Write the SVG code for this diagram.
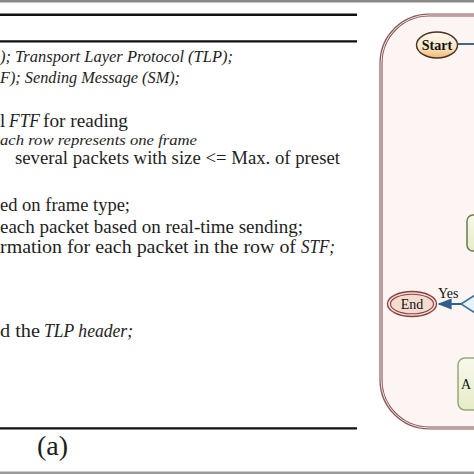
<svg xmlns="http://www.w3.org/2000/svg" width="474" height="474" viewBox="0 0 474 474">
<defs>
<linearGradient id="gStart" x1="0" y1="0" x2="0" y2="1"><stop offset="0" stop-color="#fffaf0"/><stop offset="0.6" stop-color="#fbe6c6"/><stop offset="1" stop-color="#f0b870"/></linearGradient>
<linearGradient id="gBox" x1="0" y1="0" x2="0" y2="1"><stop offset="0" stop-color="#f7f9ec"/><stop offset="1" stop-color="#e6ecc8"/></linearGradient>
<marker id="arr" viewBox="0 0 10 10" refX="9" refY="5" markerWidth="7" markerHeight="7" orient="auto"><path d="M0,1 L10,5 L0,9 Z" fill="#2f5f8f"/></marker>
</defs>
<style>
.t{font-family:"Liberation Serif",serif;fill:#1e1e1e;font-size:19px}
.i{font-family:"Liberation Serif",serif;font-style:italic;fill:#1e1e1e}
.rule{stroke:#111;fill:none}
.node{font-family:"Liberation Serif",serif;fill:#111;font-size:14px}
</style>
<rect width="474" height="474" fill="#ffffff"/>
<rect x="0" y="0" width="474" height="2.5" fill="#8a8a8a"/>
<rect x="0" y="471.5" width="474" height="2.5" fill="#9a9a9a"/>
<g id="algorithm">
<line class="rule" x1="0" y1="14.7" x2="357" y2="14.7" stroke-width="2.6"/>
<line class="rule" x1="0" y1="41.4" x2="357" y2="41.4" stroke-width="2.2"/>
<line class="rule" x1="0" y1="428.3" x2="357" y2="428.3" stroke-width="2.2"/>
<text class="i" x="0" y="62" font-size="17" textLength="233" lengthAdjust="spacingAndGlyphs">); Transport Layer Protocol (TLP);</text>
<text class="i" x="0" y="83" font-size="17" textLength="180" lengthAdjust="spacingAndGlyphs">F); Sending Message (SM);</text>
<text class="t" x="0" y="127">l <tspan class="i" x="9" textLength="31" lengthAdjust="spacingAndGlyphs">FTF</tspan><tspan x="43" textLength="85" lengthAdjust="spacingAndGlyphs">for reading</tspan></text>
<text class="i" x="0" y="145" font-size="14" textLength="197" lengthAdjust="spacingAndGlyphs">ach row represents one frame</text>
<text class="t" x="15" y="164" textLength="325" lengthAdjust="spacingAndGlyphs">several packets with size &lt;= Max. of preset</text>
<text class="t" x="0" y="211" textLength="130" lengthAdjust="spacingAndGlyphs">ed on frame type;</text>
<text class="t" x="0" y="233" textLength="303" lengthAdjust="spacingAndGlyphs">each packet based on real-time sending;</text>
<text class="t" x="0" y="253"><tspan textLength="296" lengthAdjust="spacingAndGlyphs">rmation for each packet in the row of</tspan><tspan class="i" x="301" textLength="34" lengthAdjust="spacingAndGlyphs">STF;</tspan></text>
<text class="t" x="0" y="337"><tspan textLength="40" lengthAdjust="spacingAndGlyphs">d the</tspan><tspan class="i" x="44" textLength="89" lengthAdjust="spacingAndGlyphs">TLP header;</tspan></text>
<text x="37" y="455" font-family="Liberation Serif,serif" font-size="28" fill="#1e1e1e">(a)</text>
</g>
<g id="container">
<rect x="381" y="15" width="160" height="413" rx="48" ry="48" fill="#fcf5f3" stroke="#8a5a5a" stroke-width="3.2"/>
<rect x="381" y="15" width="160" height="413" rx="48" ry="48" fill="none" stroke="#f3e4e2" stroke-width="1"/>
</g>
<g id="process1">
<rect x="467" y="215" width="30" height="36" rx="6" fill="url(#gBox)" stroke="#6e7a4e" stroke-width="1.5"/>
</g>
<g id="process2">
<rect x="458" y="358" width="40" height="52" rx="7" fill="url(#gBox)" stroke="#9aa67a" stroke-width="1.5"/>
<text class="node" x="461" y="389" font-size="15">A</text>
</g>
<g id="decision">
<polygon points="461,304 480,292 499,304 480,316" fill="#e6f2f8" stroke="#3f74a6" stroke-width="1.6"/>
</g>
<g id="connectors">
<line x1="458" y1="44" x2="474" y2="44" stroke="#1f3f5f" stroke-width="1.6"/>
<line x1="461" y1="304" x2="439" y2="304" stroke="#2f5f8f" stroke-width="2" marker-end="url(#arr)"/>
<text class="node" x="438" y="298" font-size="14">Yes</text>
</g>
<g id="start">
<ellipse cx="437" cy="45" rx="20.5" ry="13" fill="url(#gStart)" stroke="#4a3020" stroke-width="1.4"/>
<text class="node" x="437" y="50" text-anchor="middle" font-weight="bold" font-size="14.5">Start</text>
</g>
<g id="end">
<ellipse cx="412" cy="304" rx="24.5" ry="12.5" fill="#f5dcd2" stroke="#8a3f3f" stroke-width="1.3"/>
<ellipse cx="412" cy="304" rx="21.5" ry="9.8" fill="none" stroke="#8a3f3f" stroke-width="1.1"/>
<text class="node" x="412" y="309" text-anchor="middle" font-size="14.5">End</text>
</g>
</svg>
